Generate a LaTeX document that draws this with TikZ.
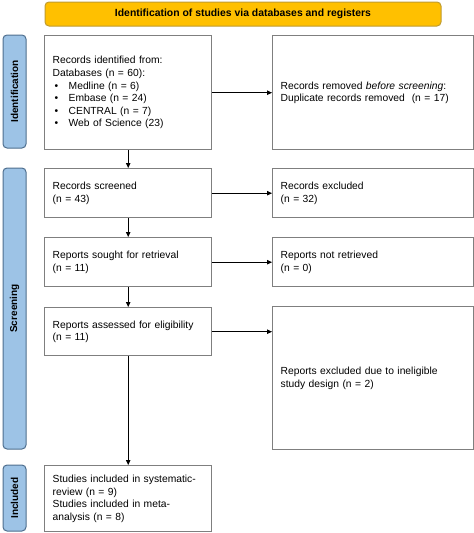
\documentclass[tikz,border=0pt]{standalone}
\usepackage{fontspec}
\setmainfont{Liberation Sans}
\usetikzlibrary{arrows.meta}
\definecolor{kopfgelb}{HTML}{FFC000}
\definecolor{kopfrand}{HTML}{BF9B30}
\definecolor{phasenblau}{HTML}{9DC3E6}
\definecolor{phasenrand}{HTML}{4E6E8E}
\definecolor{boxgrau}{HTML}{7F7F7F}
\begin{document}
\begin{tikzpicture}[x=1pt, y=-1pt,
    every node/.style={font=\fontsize{10.3}{12.6}\selectfont},
    box/.style={draw=boxgrau, line width=1.4pt, inner xsep=8pt, inner ysep=0pt,
      align=left, anchor=north west},
    links/.style={box, text width=151pt},
    rechts/.style={box, text width=185pt},
    phase/.style={draw=phasenrand, fill=phasenblau, line width=1pt, rounded corners=4pt,
      rotate=90, minimum height=23pt, inner sep=0pt, font=\bfseries\fontsize{10}{12}\selectfont},
    pfeil/.style={line width=0.8pt, -{Triangle[length=5pt,width=4.5pt]}}]
    \useasboundingbox (0,0) rectangle (474,533);

    % Kopfzeile
    \node[draw=kopfrand, fill=kopfgelb, line width=1pt, rounded corners=4pt,
      minimum width=396pt, minimum height=24pt, inner sep=0pt,
      font=\bfseries\fontsize{10.4}{12}\selectfont] (titel) at (243,14)
      {Identification of studies via databases and registers};

    % Phasen
    \node[phase, minimum width=113pt] (lid) at (14.5,91.5) {Identification};
    \node[phase, minimum width=281pt] (lscr) at (14.5,308.5) {Screening};
    \node[phase, minimum width=66pt] (linc) at (14.5,498) {Included};

    % linke Spalte
    \node[links, minimum height=114pt] (id) at (44,35)
      {Records identified from:\\
       Databases (n = 60):\\
       \hspace*{2pt}\makebox[14pt][l]{\textbullet}Medline (n = 6)\\
       \hspace*{2pt}\makebox[14pt][l]{\textbullet}Embase (n = 24)\\
       \hspace*{2pt}\makebox[14pt][l]{\textbullet}CENTRAL (n = 7)\\
       \hspace*{2pt}\makebox[14pt][l]{\textbullet}Web of Science (23)};
    \node[links, minimum height=49pt] (scr) at (44,168)
      {Records screened\\(n = 43)};
    \node[links, minimum height=49pt] (ret) at (44,237)
      {Reports sought for retrieval\\(n = 11)};
    \node[links, minimum height=48pt] (elig) at (44,307)
      {Reports assessed for eligibility\\(n = 11)};
    \node[links, minimum height=66pt] (incl) at (44,465)
      {Studies included in systematic-\\review (n = 9)\\
       Studies included in meta-\\analysis (n = 8)};

    % rechte Spalte
    \node[rechts, minimum height=114pt] (dup) at (272,35)
      {Records removed \textit{before screening}:\\
       Duplicate records removed\ \ (n = 17)};
    \node[rechts, minimum height=49pt] (excl) at (272,168)
      {Records excluded\\(n = 32)};
    \node[rechts, minimum height=49pt] (notret) at (272,237)
      {Reports not retrieved\\(n = 0)};
    \node[rechts, minimum height=143pt] (inel) at (272,306)
      {Reports excluded due to ineligible\\study design (n = 2)};

    % Pfeile
    \draw[pfeil] (id) -- (scr);
    \draw[pfeil] (scr) -- (ret);
    \draw[pfeil] (ret) -- (elig);
    \draw[pfeil] (elig) -- (incl);
    \draw[pfeil] (id) -- (dup);
    \draw[pfeil] (scr) -- (excl);
    \draw[pfeil] (ret) -- (notret);
    \draw[pfeil] (elig.east) -- (elig.east -| inel.west);
  \end{tikzpicture}
\end{document}
